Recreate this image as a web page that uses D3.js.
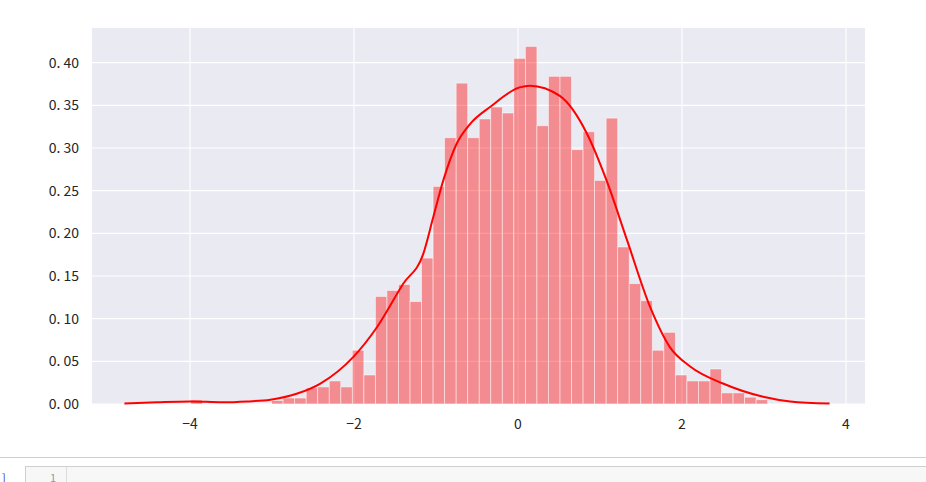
<!DOCTYPE html>
<html>
<head>
<meta charset="utf-8">
<script src="https://cdn.jsdelivr.net/npm/d3@7"></script>
<style>
  body { margin: 0; background: #fff; }
  svg { display: block; }
</style>
</head>
<body>
<svg id="chart"></svg>
<script>
// histogram: 50 bins starting at the data minimum
const binStart = -3.99;
const binWidth = 0.1407;
const density = [
  0.005, 0, 0, 0, 0, 0, 0, 0.004, 0.007, 0.007,
  0.019, 0.020, 0.027, 0.020, 0.063, 0.034, 0.126, 0.133, 0.140, 0.120,
  0.171, 0.255, 0.312, 0.376, 0.312, 0.334, 0.348, 0.341, 0.405, 0.419,
  0.326, 0.384, 0.384, 0.298, 0.319, 0.262, 0.335, 0.184, 0.141, 0.121,
  0.063, 0.084, 0.034, 0.027, 0.027, 0.041, 0.013, 0.013, 0.008, 0.005
];

// kde curve
const kdeX = [-4.8, -4.4, -4.0, -3.6, -3.3, -3.02, -2.7, -2.41, -2.01, -1.72, -1.4, -1.155, -1.033, -0.911, -0.748, -0.585, -0.341, 0.02, 0.146, 0.51, 0.84, 1.08, 1.33, 1.61, 1.85, 2.10, 2.50, 2.99, 3.32, 3.8];
const kdeY = [0.0005, 0.002, 0.003, 0.002, 0.003, 0.005, 0.012, 0.024, 0.055, 0.090, 0.141, 0.176, 0.219, 0.262, 0.305, 0.328, 0.348, 0.371, 0.373, 0.361, 0.317, 0.262, 0.192, 0.114, 0.067, 0.044, 0.024, 0.0085, 0.003, 0.0005];

const xTicks = [-4, -2, 0, 2, 4];
const yTicks = [0, 0.05, 0.10, 0.15, 0.20, 0.25, 0.30, 0.35, 0.40];

const width = 926, height = 482;
const plotL = 92, plotR = 865, plotT = 28, plotB = 404;

const svg = d3.select('#chart').attr('width', width).attr('height', height);

const x = d3.scaleLinear().domain([-5.195, 4.232]).range([plotL, plotR]);
const y = d3.scaleLinear().domain([0, 0.4406]).range([plotB, plotT]);

svg.append('rect')
  .attr('x', plotL).attr('y', plotT)
  .attr('width', plotR - plotL).attr('height', plotB - plotT)
  .attr('fill', '#eaeaf2');

// grid
svg.append('g').selectAll('line').data(yTicks).enter().append('line')
  .attr('x1', plotL).attr('x2', plotR)
  .attr('y1', d => y(d)).attr('y2', d => y(d))
  .attr('stroke', '#fff').attr('stroke-width', 1.2);
svg.append('g').selectAll('line').data(xTicks).enter().append('line')
  .attr('y1', plotT).attr('y2', plotB)
  .attr('x1', d => x(d)).attr('x2', d => x(d))
  .attr('stroke', '#fff').attr('stroke-width', 1.2);

// bars
svg.append('g').selectAll('rect').data(density).enter().append('rect')
  .attr('x', (d, i) => x(binStart + i * binWidth))
  .attr('width', x(binWidth) - x(0))
  .attr('y', d => y(d))
  .attr('height', d => y(0) - y(d))
  .attr('fill', 'rgba(255,0,0,0.4)')
  .attr('stroke', 'rgba(255,255,255,0.6)')
  .attr('stroke-width', 0.8);

// kde
const line = d3.line()
  .x((d, i) => x(kdeX[i]))
  .y(d => y(d))
  .curve(d3.curveMonotoneX);
svg.append('path')
  .datum(kdeY)
  .attr('d', line)
  .attr('fill', 'none')
  .attr('stroke', 'red')
  .attr('stroke-width', 2);

// tick labels
const font = '"Noto Sans CJK SC", "DejaVu Sans", sans-serif';
svg.append('g').selectAll('text').data(yTicks).enter().append('text')
  .attr('x', 79).attr('y', d => y(d) + 5)
  .attr('text-anchor', 'end')
  .style('font-family', font).style('font-size', '14px').attr('fill', '#262626')
  .text(d => d.toFixed(2).replace('.', '. '));
svg.append('g').selectAll('text').data(xTicks).enter().append('text')
  .attr('x', d => x(d)).attr('y', 429)
  .attr('text-anchor', 'middle')
  .style('font-family', font).style('font-size', '14px').attr('fill', '#262626')
  .text(d => d < 0 ? '\u2212' + Math.abs(d) : d);

// notebook cell fragment below
svg.append('line').attr('x1', 0).attr('x2', width).attr('y1', 457.5).attr('y2', 457.5)
  .attr('stroke', '#cfcfcf');
svg.append('rect').attr('x', 25.5).attr('y', 466.5).attr('width', 910).attr('height', 30)
  .attr('fill', '#f7f7f7').attr('stroke', '#cfcfcf');
svg.append('line').attr('x1', 66.5).attr('x2', 66.5).attr('y1', 467).attr('y2', 482)
  .attr('stroke', '#ddd');
svg.append('text').attr('x', 2).attr('y', 482).style('font-size', '11px')
  .style('font-family', font).attr('fill', '#303f9f').text(']');
svg.append('text').attr('x', 50).attr('y', 482).style('font-size', '11px')
  .style('font-family', font).attr('fill', '#999').text('1');
</script>
</body>
</html>
